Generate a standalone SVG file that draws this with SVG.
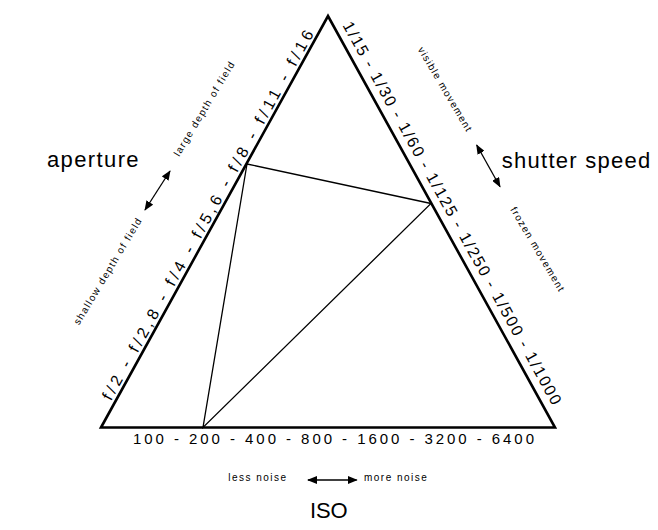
<svg xmlns="http://www.w3.org/2000/svg" width="658" height="530" viewBox="0 0 658 530">
  <style>
    text { font-family: "Liberation Sans", Arial, sans-serif; fill: #000; }
    .big { font-size: 22px; letter-spacing: 1.4px; }
    .scale { font-size: 15px; }
    .edge { font-size: 16px; }
    .small { font-size: 10px; }
    .outer { fill: none; stroke: #000; stroke-width: 2.6; stroke-linejoin: miter; }
    .inner { fill: none; stroke: #000; stroke-width: 1.3; }
    .arrow { stroke: #000; stroke-width: 1.3; fill: none; marker-start: url(#head); marker-end: url(#head); }
  </style>
  <defs>
    <marker id="head" viewBox="0 0 10 8" refX="9" refY="4" markerWidth="10" markerHeight="8" markerUnits="userSpaceOnUse" orient="auto-start-reverse">
      <path d="M0,0 L10,4 L0,8 z" fill="#000"/>
    </marker>
  </defs>
  <rect width="658" height="530" fill="#fff"/>

  <g id="triangle">
    <polygon class="outer" points="101,427.5 328,16 555,427.5"/>
  </g>
  <g id="exposure-triangle">
    <polygon class="inner" points="247,164 431,203.5 203,427.5"/>
  </g>

  <g id="aperture">
    <text class="big" x="47" y="167" textLength="93" lengthAdjust="spacing">aperture</text>
    <text class="edge" transform="translate(212.5,217.7) rotate(-61.09)" text-anchor="middle" textLength="420" lengthAdjust="spacing">f/2 - f/2,8 - f/4 - f/5,6 - f/8 - f/11 - f/16</text>
    <text class="small" transform="translate(204,109) rotate(-59)" text-anchor="middle" dy="0.35em" textLength="108" lengthAdjust="spacing">large depth of field</text>
    <text class="small" transform="translate(107.5,271.5) rotate(-59)" text-anchor="middle" dy="0.35em" textLength="122" lengthAdjust="spacing">shallow depth of field</text>
  </g>

  <g id="shutter-speed">
    <text class="big" x="501.7" y="168" textLength="150" lengthAdjust="spacing">shutter speed</text>
    <text class="edge" transform="translate(447.4,215.7) rotate(61.09)" text-anchor="middle" textLength="435" lengthAdjust="spacing">1/15 - 1/30 - 1/60 - 1/125 - 1/250 - 1/500 - 1/1000</text>
    <text class="small" transform="translate(445,89) rotate(59.5)" text-anchor="middle" dy="0.35em" textLength="96" lengthAdjust="spacing">visible movement</text>
    <text class="small" transform="translate(537.5,249) rotate(59.5)" text-anchor="middle" dy="0.35em" textLength="96" lengthAdjust="spacing">frozen movement</text>
  </g>

  <g id="iso">
    <text class="big" x="310" y="518" textLength="39" lengthAdjust="spacing">ISO</text>
    <text class="scale" x="133" y="444" textLength="401" lengthAdjust="spacing">100 - 200 - 400 - 800 - 1600 - 3200 - 6400</text>
    <text class="small" x="228.3" y="481" textLength="57.7" lengthAdjust="spacing">less noise</text>
    <text class="small" x="364" y="481" textLength="62.7" lengthAdjust="spacing">more noise</text>
  </g>

  <g id="connectors">
    <line class="arrow" x1="145" y1="210" x2="170" y2="171"/>
    <line class="arrow" x1="476.7" y1="145" x2="500" y2="186.7"/>
    <line class="arrow" x1="308" y1="480" x2="356.7" y2="480"/>
  </g>
</svg>
